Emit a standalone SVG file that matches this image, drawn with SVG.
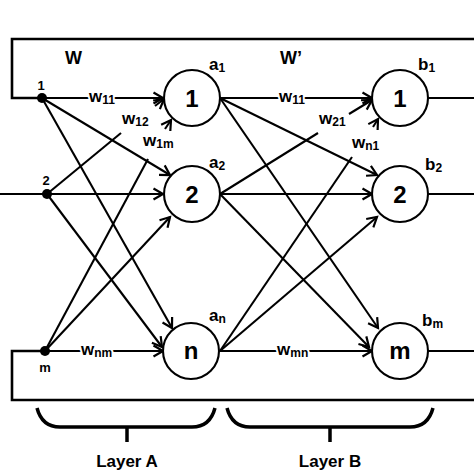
<svg xmlns="http://www.w3.org/2000/svg" width="474" height="474" viewBox="0 0 474 474">
<defs>
<marker id="arr" markerUnits="userSpaceOnUse" markerWidth="14" markerHeight="14" refX="11" refY="6" orient="auto" viewBox="0 0 14 12">
<path d="M1.5,0.5 L11,6 L1.5,11.5" fill="none" stroke="#000" stroke-width="2.2"/>
</marker>
</defs>
<style>
.frame{fill:none;stroke:#000;stroke-width:2.6}
.c{fill:none;stroke:#000;stroke-width:2.1}
.a{fill:none;stroke:#000;stroke-width:2.1;marker-end:url(#arr)}
.node{fill:#fff;stroke:#000;stroke-width:2.1}
.t{font-family:"Liberation Sans",Arial,sans-serif;font-weight:bold;fill:#000}
.big{font-size:24px}
.w{font-size:17px}
.s{font-size:12px}
.in{font-size:13px}
.lab{paint-order:stroke;stroke:#fff;stroke-width:4px;stroke-linejoin:round}
.br{fill:none;stroke:#000;stroke-width:3.5}
</style>
<g id="frame">
<path class="frame" d="M474,39 H12 V98 H42"/>
<path class="frame" d="M42,351 H12 V400 H474"/>
<line class="c" x1="0" y1="194" x2="47" y2="194"/>
</g>
<g id="connectors">
<line class="a" x1="42" y1="98" x2="163" y2="98"/>
<line class="a" x1="42" y1="98" x2="170" y2="175"/>
<line class="a" x1="42" y1="98" x2="172" y2="328"/>
<line class="c" x1="47" y1="194" x2="121" y2="133"/>
<line class="a" x1="155" y1="106" x2="164" y2="99"/>
<line class="a" x1="47" y1="194" x2="163" y2="194"/>
<line class="a" x1="47" y1="194" x2="162" y2="347"/>
<line class="c" x1="45" y1="351" x2="148" y2="159"/>
<line class="a" x1="165" y1="129" x2="171" y2="120"/>
<line class="a" x1="45" y1="351" x2="170" y2="217"/>
<line class="a" x1="45" y1="351" x2="163" y2="351"/>
<line class="a" x1="220" y1="98" x2="372" y2="98"/>
<line class="a" x1="220" y1="98" x2="377" y2="175"/>
<line class="a" x1="220" y1="98" x2="378" y2="328"/>
<line class="c" x1="220" y1="194" x2="318" y2="133"/>
<line class="a" x1="349" y1="114" x2="372" y2="100"/>
<line class="a" x1="220" y1="194" x2="372" y2="194"/>
<line class="a" x1="220" y1="194" x2="369" y2="347"/>
<line class="c" x1="220" y1="351" x2="352" y2="157"/>
<line class="a" x1="373" y1="127" x2="378" y2="119"/>
<line class="a" x1="220" y1="351" x2="377" y2="217"/>
<line class="a" x1="220" y1="351" x2="372" y2="351"/>
<line class="c" x1="428" y1="98" x2="474" y2="98"/>
<line class="c" x1="428" y1="194" x2="474" y2="194"/>
<line class="c" x1="428" y1="351" x2="474" y2="351"/>
</g>
<g id="in1"><circle cx="42" cy="98" r="5"/><text class="t in" x="41" y="90" text-anchor="middle">1</text></g>
<g id="in2"><circle cx="47" cy="194" r="5"/><text class="t in" x="46" y="185" text-anchor="middle">2</text></g>
<g id="inm"><circle cx="45" cy="351" r="5"/><text class="t in" x="45" y="372" text-anchor="middle">m</text></g>
<g id="a1"><circle class="node" cx="192" cy="98" r="28"/><text class="t big" x="192" y="107" text-anchor="middle">1</text><text class="t w" x="209" y="70">a<tspan class="s" dy="2">1</tspan></text></g>
<g id="a2"><circle class="node" cx="192" cy="194" r="28"/><text class="t big" x="192" y="203" text-anchor="middle">2</text><text class="t w" x="209" y="168">a<tspan class="s" dy="2">2</tspan></text></g>
<g id="an"><circle class="node" cx="191" cy="351" r="28"/><text class="t big" x="191" y="359" text-anchor="middle">n</text><text class="t w" x="209" y="321">a<tspan class="s" dy="2">n</tspan></text></g>
<g id="b1"><circle class="node" cx="400" cy="98" r="28"/><text class="t big" x="400" y="107" text-anchor="middle">1</text><text class="t w" x="418" y="70">b<tspan class="s" dy="2">1</tspan></text></g>
<g id="b2"><circle class="node" cx="400" cy="194" r="28"/><text class="t big" x="400" y="203" text-anchor="middle">2</text><text class="t w" x="425" y="170">b<tspan class="s" dy="2">2</tspan></text></g>
<g id="bm"><circle class="node" cx="400" cy="351" r="28"/><text class="t big" x="400" y="359" text-anchor="middle">m</text><text class="t w" x="422" y="326">b<tspan class="s" dy="2">m</tspan></text></g>
<g id="weights">
<text class="t" font-size="18" x="65" y="64">W</text>
<text class="t" font-size="18" x="280" y="64">W’</text>
<text class="t w lab" x="89" y="102">w<tspan class="s" dy="2">11</tspan></text>
<text class="t w" x="122" y="124">w<tspan class="s" dy="2">12</tspan></text>
<text class="t w" x="143" y="146">w<tspan class="s" dy="2">1m</tspan></text>
<text class="t w lab" x="279" y="102">w<tspan class="s" dy="2">11</tspan></text>
<text class="t w" x="319" y="124">w<tspan class="s" dy="2">21</tspan></text>
<text class="t w" x="352" y="148">w<tspan class="s" dy="2">n1</tspan></text>
<text class="t w lab" x="81" y="355">w<tspan class="s" dy="2">nm</tspan></text>
<text class="t w lab" x="277" y="355">w<tspan class="s" dy="2">mn</tspan></text>
</g>
<g id="layerA">
<path class="br" d="M37,408 Q42,427 60,427 H192 Q210,427 215,408"/>
<line class="br" x1="127" y1="427" x2="127" y2="442"/>
<text class="t" font-size="17" x="127" y="467" text-anchor="middle">Layer A</text>
</g>
<g id="layerB">
<path class="br" d="M227,408 Q232,427 250,427 H410 Q428,427 433,408"/>
<line class="br" x1="330" y1="427" x2="330" y2="442"/>
<text class="t" font-size="17" x="330" y="467" text-anchor="middle">Layer B</text>
</g>
</svg>
